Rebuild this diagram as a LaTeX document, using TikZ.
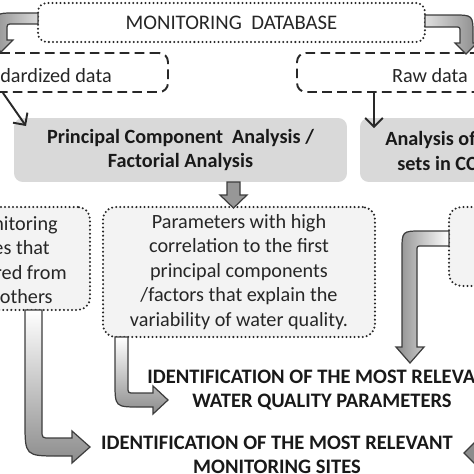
\documentclass[tikz,border=0pt]{standalone}
\usepackage{fontspec}
\setmainfont{Carlito}
\definecolor{mdline} {RGB}{40,40,40}
\definecolor{mdgrey} {RGB}{217,217,217}
\definecolor{mdpale} {RGB}{243,243,243}
\definecolor{mdarrow}{RGB}{140,140,140}
\definecolor{mdtext} {RGB}{38,38,38}
\usetikzlibrary{arrows.meta,calc}
\tikzset{
  dotbox/.style={rectangle,rounded corners=7pt,draw=mdline,fill=mdpale,
                 dash pattern=on 0pt off 2.3pt,line cap=round,line width=1.3pt,
                 inner sep=0pt,align=center,text=mdtext,
                 font=\fontsize{11.5}{13.9}\selectfont},
  dashbox/.style={rectangle,rounded corners=5pt,draw=mdline,fill=white,
                  dash pattern=on 5.5pt off 3pt,line width=1.1pt,
                  inner sep=0pt,align=center,text=mdtext,
                  font=\fontsize{11.5}{13.9}\selectfont},
  greybox/.style={rectangle,rounded corners=5pt,fill=mdgrey,inner sep=0pt,
                  align=center,text=black!90,
                  font=\fontsize{11.5}{13.9}\selectfont\bfseries},
  txt/.style={inner sep=0pt,text=mdtext,font=\fontsize{11.5}{13.9}\selectfont},
  boldtxt/.style={inner sep=0pt,text=black!90,align=center,
                  font=\fontsize{11.5}{13.9}\selectfont\bfseries},
  idtxt/.style={boldtxt,font=\fontsize{11.7}{13.6}\selectfont\bfseries},
  thinarr/.style={-{Straight Barb[length=5pt,width=10pt]},line width=1.1pt,
                  draw=mdline},
  fatarr/.style={draw=mdline!90,line width=0.7pt,line join=miter},
}

\begin{document}
\begin{tikzpicture}[x=0.02cm,y=-0.02cm]
  \useasboundingbox (0,0) rectangle (474,474);
  \clip (0,0) rectangle (474,474);

  % database and the two data sets
  \node[dotbox,fill=white,rounded corners=5pt,minimum width=7.74cm,
        minimum height=0.78cm,font=\fontsize{11.8}{14}\selectfont]
        (db) at (231.5,22.5) {MONITORING~~DATABASE};
  \node[dashbox,minimum width=5.36cm,minimum height=0.78cm] (std) at (34,72.5) {};
  \node[txt,anchor=base west] (stdtxt) at (0,82) {dardized data};
  \node[dashbox,minimum width=5.32cm,minimum height=0.78cm] (raw) at (430,72.5) {};
  \node[txt,anchor=base] (rawtxt) at (430,82) {Raw data};

  % analyses
  \node[greybox,minimum width=6.66cm,minimum height=1.28cm] (pca) at (180.5,150)
       {Principal Component~~Analysis /\\Factorial Analysis};
  \node[greybox,minimum width=6.6cm,minimum height=1.28cm] (ana) at (525,150) {};
  \node[boldtxt,anchor=base west] (ana1) at (385,145) {Analysis of};
  \node[boldtxt,anchor=base west] (ana2) at (397,170) {sets in CC};

  % results
  \node[dotbox,minimum width=3.14cm,minimum height=2.06cm] (sites) at (11.5,258.5) {};
  \foreach \y/\xe/\lab in {230/58/nitoring, 254.5/50/es that,
                           279/67/red from, 303.5/53/others}{
    \node[txt,anchor=base east] (sites-\y) at (\xe,\y) {\lab};
  }
  \node[dotbox,minimum width=5.44cm,minimum height=2.6cm] (params) at (239,272)
       {Parameters with high\\correlation to the first\\principal components\\
        /factors that explain the\\variability of water quality.};
  \node[dotbox,minimum width=3.04cm,minimum height=1.58cm] (rbox) at (525,246.5) {};

  \node[idtxt,anchor=base west] (wq1) at (147,383)
       {IDENTIFICATION OF THE MOST RELEVA};
  \node[idtxt,anchor=base] (wq2) at (322,407) {WATER QUALITY PARAMETERS};
  \node[idtxt] (ms) at (277,455)
       {IDENTIFICATION OF THE MOST RELEVANT\\MONITORING SITES};

  % thin arrows
  \coordinate (stdfoot) at (3,0);
  \coordinate (stdtip) at (26,126);
  \coordinate (rawtip) at (374,128);
  \draw[thinarr] (std.south -| stdfoot) -- (stdtip);
  \draw[thinarr] (raw.south -| rawtip) -- (rawtip);

  % block arrows
  \draw[fatarr,left color=mdarrow,right color=gray!30]
    (38,13) -- (15,13) .. controls (-5,13) .. (-5,33) -- (-5,40) -- (-11,40)
    -- (1,52) -- (13,40) -- (7,40) -- (7,30) .. controls (7,24) .. (13,24)
    -- (38,24) -- cycle;
  \draw[fatarr,left color=gray!25,right color=mdarrow]
    (425,15) -- (453,15) .. controls (473,15) .. (473,35) -- (473,43)
    -- (477,43) -- (466,54) -- (455,43) -- (460,43) -- (460,32)
    .. controls (460,27) .. (455,27) -- (425,27) -- cycle;
  \draw[fatarr,fill=mdarrow!90]
    (227,182) -- (227,195) -- (220,195) -- (233.5,208) -- (247,195)
    -- (240,195) -- (240,182) -- cycle;
  \draw[fatarr,top color=white,bottom color=mdarrow]
    (25,310) -- (25,422) .. controls (25,456) .. (59,456) -- (72,456)
    -- (72,463) -- (90,447) -- (72,431) -- (72,438) -- (50,438)
    .. controls (42,438) .. (42,430) -- (42,310) -- cycle;
  \draw[fatarr,top color=white,bottom color=mdarrow]
    (115,337) -- (115,382) .. controls (115,407) .. (140,407) -- (153,407)
    -- (153,414) -- (168,400) -- (153,386) -- (153,393) -- (134,393)
    .. controls (128,393) .. (128,387) -- (128,337) -- cycle;
  \draw[fatarr,left color=mdarrow,right color=white]
    (449,231) -- (422,231) .. controls (402,231) .. (402,251) -- (402,347)
    -- (396,347) -- (410,363) -- (424,347) -- (417,347) -- (417,251)
    .. controls (417,246) .. (422,246) -- (449,246) -- cycle;
  \draw[fatarr,fill=mdarrow] (464,453) -- (477,440) -- (477,466) -- cycle;
\end{tikzpicture}
\end{document}
